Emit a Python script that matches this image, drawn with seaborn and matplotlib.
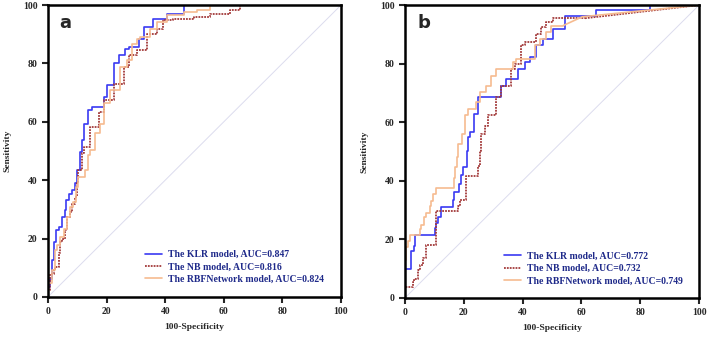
import matplotlib
matplotlib.use('Agg')
import matplotlib.pyplot as plt
import seaborn as sns
import pandas as pd

sns.set_style('ticks')
plt.rcParams['font.family'] = ['Liberation Serif', 'DejaVu Serif']
plt.rcParams['font.weight'] = 'bold'

# panel a - ROC points (100-specificity, sensitivity)
a_klr_x = [0, 0.8, 1.4, 2.1, 2.8, 3.6, 4.7, 5.9, 6.2, 7.0, 8.1, 9.3, 9.8, 11.0, 11.6, 12.2,
           13.5, 15.0, 19.0, 20.1, 22.4, 24.1, 26.4, 27.5, 30.9, 32.6, 36.0, 40.6, 46.3, 49.0, 100]
a_klr_y = [0, 3.4, 6.3, 12.6, 18.9, 22.9, 24.0, 27.4, 29.7, 33.1, 35.4, 36.6, 38.9, 43.4, 49.7, 53.7,
           59.4, 64.0, 65.1, 68.5, 72.5, 80.0, 82.8, 85.0, 85.6, 88.5, 92.5, 95.3, 97.0, 100, 100]
a_nb_x = [0, 0.6, 1.9, 2.5, 3.6, 4.2, 4.7, 5.9, 6.4, 7.6, 8.1, 9.3, 9.8, 10.4, 11.5, 12.2, 14.4,
          17.3, 19.0, 22.4, 25.8, 27.5, 30.3, 33.8, 37.2, 39.4, 42.8, 49.7, 55.3, 62.2, 65.5, 68.4, 100]
a_nb_y = [0, 2.3, 8.0, 9.7, 10.3, 14.9, 18.9, 20.0, 22.9, 27.4, 29.1, 32.0, 34.3, 38.9, 43.4, 49.2, 51.5,
          58.3, 63.4, 67.4, 73.1, 78.8, 82.8, 84.5, 90.2, 91.9, 94.8, 95.3, 95.9, 97.0, 98.2, 100, 100]
a_rbf_x = [0, 1.4, 2.5, 3.1, 4.2, 5.3, 6.4, 7.6, 8.7, 9.6, 10.4, 11.0, 12.7, 13.8, 14.4, 16.1, 17.8,
           19.0, 21.3, 24.7, 26.9, 28.6, 30.3, 31.5, 34.9, 37.2, 40.6, 46.3, 50.8, 55.3, 56.5, 100]
a_rbf_y = [0, 4.6, 9.1, 16.0, 17.7, 20.6, 23.4, 27.4, 30.9, 32.6, 37.7, 41.1, 41.1, 43.4, 48.6, 50.3, 56.0,
           59.4, 66.3, 70.8, 78.8, 81.1, 86.8, 88.5, 89.0, 91.9, 94.2, 96.5, 97.6, 98.2, 100, 100]

# panel b (stepped part, then a straight tail to (100, 100))
b_klr_x = [0, 0, 1.9, 2.1, 3.0, 3.5, 3.8, 10.1, 10.4, 11.2, 12.1, 12.5, 16.3, 16.6, 18.2, 18.9, 19.7,
           21.0, 21.5, 22.1, 23.6, 24.9, 28.3, 32.8, 34.5, 38.5, 40.8, 42.5, 44.7, 47.0, 50.4, 54.4,
           58.3, 65.1, 65.1, 83.2, 83.2, 100]
b_klr_y = [0, 9.9, 9.9, 13.6, 15.9, 17.6, 21.5, 21.5, 23.8, 25.5, 27.7, 31.1, 31.1, 33.4, 36.2, 39.0, 41.9,
           44.6, 50.3, 54.8, 56.6, 62.8, 68.5, 68.5, 72.5, 74.8, 78.2, 80.5, 82.2, 86.2, 88.5, 91.9,
           96.1, 96.1, 98.2, 98.2, 100, 100]
b_nb_x = [0, 0.3, 2.6, 3.0, 4.5, 5.1, 6.2, 7.3, 7.3, 10.5, 10.7, 11.3, 18.1, 18.6, 20.9, 21.5, 24.9,
          25.4, 26.0, 27.2, 28.3, 31.1, 32.8, 36.2, 37.4, 39.6, 40.8, 44.7, 46.4, 48.1, 50.4, 61.2]
b_nb_y = [0, 3.8, 3.8, 5.5, 6.6, 9.6, 11.3, 13.6, 18.2, 18.2, 21.6, 29.6, 29.6, 31.3, 33.6, 41.6, 41.6,
          45.0, 50.3, 56.0, 58.8, 62.3, 68.5, 72.5, 78.2, 80.0, 86.2, 87.3, 90.2, 92.5, 94.2, 95.5]
b_nb_tail_x = [61.2, 100]
b_nb_tail_y = [95.5, 100]
b_rbf_x = [0, 0.5, 1.0, 1.7, 2.5, 5.0, 5.5, 6.5, 7.0, 8.5, 9.0, 9.5, 10.5, 12.5, 16.5, 17.0, 17.6,
           18.1, 19.3, 20.4, 21.5, 24.3, 25.5, 27.7, 29.4, 31.1, 32.3, 36.8, 37.9, 44.2, 45.9, 48.1,
           49.8, 53.8]
b_rbf_y = [0, 13.0, 17.5, 19.5, 21.5, 21.5, 23.5, 25.0, 27.5, 29.0, 31.5, 33.0, 35.5, 37.5, 37.5, 41.0, 44.6,
           48.0, 52.6, 56.0, 62.3, 64.5, 66.8, 70.2, 72.5, 75.9, 78.2, 78.2, 80.5, 81.6, 86.2, 88.5,
           90.8, 93.0]
b_rbf_tail_x = [53.8, 60.3, 100]
b_rbf_tail_y = [93.0, 96.0, 100]

panels = [
    ('a', (0.037, 0.921), (0.331, 0.045),
     [(a_klr_x, a_klr_y, None, 'The KLR model, AUC=0.847'),
      (a_nb_x, a_nb_y, None, 'The NB model, AUC=0.816'),
      (a_rbf_x, a_rbf_y, None, 'The RBFNetwork model, AUC=0.824')]),
    ('b', (0.042, 0.921), (0.336, 0.042),
     [(b_klr_x, b_klr_y, None, 'The KLR model, AUC=0.772'),
      (b_nb_x, b_nb_y, (b_nb_tail_x, b_nb_tail_y), 'The NB model, AUC=0.732'),
      (b_rbf_x, b_rbf_y, (b_rbf_tail_x, b_rbf_tail_y), 'The RBFNetwork model, AUC=0.749')]),
]
colors = ['#3a3af2', '#a33a3a', '#f6bb90']
styles = ['-', (0, (1.0, 0.6)), '-']
widths = [1.2, 1.3, 1.2]

fig = plt.figure(figsize=(7.09, 3.37), dpi=100)
axes = [fig.add_axes([0.0677, 0.119, 0.4133, 0.866]),
        fig.add_axes([0.5712, 0.116, 0.4148, 0.869])]

for ax, (tag, tag_pos, leg_pos, curves) in zip(axes, panels):
    sns.lineplot(x=[0, 100], y=[0, 100], ax=ax, color='#dcdcee', linewidth=0.7)
    for (x, y, tail, lab), c, ls, lw in zip(curves, colors, styles, widths):
        df = pd.DataFrame({'x': x, 'y': y})
        sns.lineplot(data=df, x='x', y='y', ax=ax, sort=False, estimator=None,
                     drawstyle='steps-pre', color=c, linestyle=ls, linewidth=lw, label=lab)
        if tail is not None:
            sns.lineplot(x=tail[0], y=tail[1], ax=ax, sort=False, estimator=None,
                         color=c, linestyle=ls, linewidth=lw)
    ax.set_xlim(0, 100)
    ax.set_ylim(0, 100)
    ax.set_xticks(range(0, 101, 20))
    ax.set_yticks(range(0, 101, 20))
    ax.tick_params(direction='out', length=4.5, width=1.5, labelsize=7, pad=3)
    for s in ax.spines.values():
        s.set_linewidth(1.8)
        s.set_color('black')
    ax.set_xlabel('100-Specificity', fontsize=6.8, fontweight='bold', labelpad=5)
    ax.set_ylabel('Sensitivity', fontsize=6.8, fontweight='bold', labelpad=8)
    ax.text(tag_pos[0], tag_pos[1], tag, transform=ax.transAxes, fontsize=13, fontweight='bold',
            family='DejaVu Sans', va='baseline', ha='left')
    ax.legend(loc='lower left', bbox_to_anchor=leg_pos, frameon=False, borderaxespad=0, borderpad=0,
              prop={'size': 7, 'weight': 'bold'}, labelcolor='#1f2a8a',
              handlelength=1.75, handletextpad=0.6, labelspacing=0.35)

fig.savefig('out.png', dpi=100)
